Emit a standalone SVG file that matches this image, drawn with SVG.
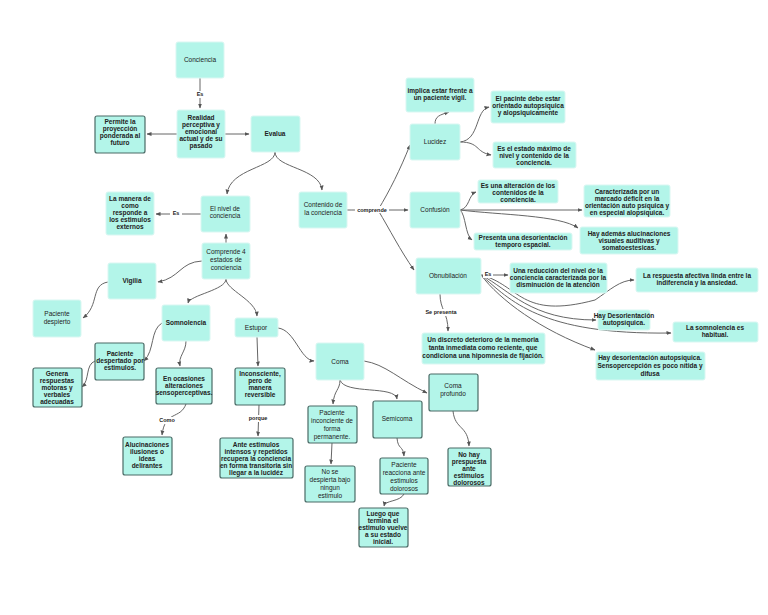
<svg xmlns="http://www.w3.org/2000/svg" width="768" height="615" viewBox="0 0 768 615">
<defs>
<marker id="a" viewBox="0 0 10 10" refX="9" refY="5" markerWidth="5" markerHeight="5" orient="auto"><path d="M0,1 L10,5 L0,9 z" fill="#555"/></marker>
<style>
.n{fill:#b3f5e9;stroke:#d9f7f2;stroke-width:1}
.b{fill:#b3f5e9;stroke:#4a6b66;stroke-width:1.2}
text{font-family:"Liberation Sans",Arial,sans-serif;font-size:6.5px;fill:#222;text-anchor:middle}
.t{font-weight:bold}
.c path{fill:none;stroke:#666;stroke-width:1;marker-end:url(#a)}
.l{font-size:5.5px;font-weight:bold}
</style>
</defs>
<rect width="768" height="615" fill="#fff"/>
<g class="c">
<path d="M200,78 L200,108"/>
<path d="M177,134 L147,134"/>
<path d="M225,134 L249,134"/>
<path d="M275,152 C275,168 230,168 227,194"/>
<path d="M275,152 C275,168 320,168 322,190"/>
<path d="M201,214 L156,214"/>
<path d="M226,243 L226,234"/>
<path d="M202,261 C180,262 180,278 158,282"/>
<path d="M226,279 C226,290 190,295 188,303"/>
<path d="M226,279 C226,290 256,300 257,316"/>
<path d="M108,282 C90,285 100,305 83,318"/>
<path d="M162,323 C150,330 155,350 144,361"/>
<path d="M95,361 C85,365 90,380 82,387"/>
<path d="M186,341 C186,352 178,356 180,366"/>
<path d="M186,404 C180,420 165,410 162,435"/>
<path d="M257,337 L258,366"/>
<path d="M259,405 L258,436"/>
<path d="M278,328 C295,330 300,360 314,361"/>
<path d="M340,380 C340,390 334,390 333,404"/>
<path d="M340,380 C345,395 395,385 397,399"/>
<path d="M364,361 C385,364 400,380 427,393"/>
<path d="M332,443 L331,464"/>
<path d="M397,438 C398,450 403,445 404,456"/>
<path d="M404,494 C400,502 385,500 384,506"/>
<path d="M453,411 C455,430 468,425 469,446"/>
<path d="M347,210 C370,210 375,210 378,210 C390,190 400,170 410,145"/>
<path d="M378,210 L408,210"/>
<path d="M378,210 C390,230 400,250 414,270"/>
<path d="M435,124 C435,116 440,115 449,112"/>
<path d="M460,142 C480,140 475,110 489,107"/>
<path d="M460,142 C480,142 475,152 491,155"/>
<path d="M460,210 C470,208 468,195 476,192"/>
<path d="M460,210 L582,210"/>
<path d="M460,210 C500,215 560,215 578,228"/>
<path d="M460,210 C466,215 465,235 472,240"/>
<path d="M481,275 L508,275"/>
<path d="M481,275 C520,285 520,320 595,300 C610,290 620,280 634,280"/>
<path d="M481,275 C510,290 530,320 596,320"/>
<path d="M481,275 C510,300 540,335 671,333"/>
<path d="M481,275 C500,300 540,330 595,350"/>
<path d="M440,294 C440,310 448,312 448,331"/>
</g>
<g font-weight="bold">
<rect x="194" y="91" width="12" height="7" fill="#fff"/><text class="l" x="200" y="96">Es</text>
<rect x="170" y="210" width="12" height="7" fill="#fff"/><text class="l" x="176" y="215">Es</text>
<rect x="355" y="206" width="34" height="7" fill="#fff"/><text class="l" x="372" y="212">comprende</text>
<rect x="483" y="271" width="10" height="7" fill="#fff"/><text class="l" x="488" y="276">Es</text>
<rect x="424" y="309" width="34" height="7" fill="#fff"/><text class="l" x="441" y="314">Se presenta</text>
<rect x="158" y="417" width="18" height="7" fill="#fff"/><text class="l" x="167" y="422">Como</text>
<rect x="248" y="415" width="20" height="7" fill="#fff"/><text class="l" x="258" y="420">porque</text>
</g>
<g id="conciencia"><rect class="n" x="176" y="42" width="48" height="36" rx="2"/><text x="200" y="62">Conciencia</text></g>
<g id="realidad"><rect class="n" x="177" y="110" width="48" height="48" rx="2"/><text class="t" x="201" y="120">Realidad</text><text class="t" x="201" y="127">perceptiva y</text><text class="t" x="201" y="134">emocional</text><text class="t" x="201" y="141">actual y de su</text><text class="t" x="201" y="148">pasado</text></g>
<g id="permite"><rect class="b" x="95" y="116" width="50" height="37" rx="2"/><text class="t" x="120" y="124">Permite la</text><text class="t" x="120" y="131">proyección</text><text class="t" x="120" y="138">ponderada al</text><text class="t" x="120" y="145">futuro</text></g>
<g id="evalua"><rect class="n" x="251" y="116" width="49" height="36" rx="2"/><text class="t" x="275" y="136">Evalua</text></g>
<g id="nivel"><rect class="n" x="201" y="196" width="49" height="36" rx="2"/><text x="225" y="211">El nivel de</text><text x="225" y="218">conciencia</text></g>
<g id="manera"><rect class="n" x="106" y="192" width="48" height="43" rx="2"/><text class="t" x="130" y="201">La manera de</text><text class="t" x="130" y="208">como</text><text class="t" x="130" y="215">responde a</text><text class="t" x="130" y="222">los estimulos</text><text class="t" x="130" y="229">externos</text></g>
<g id="contenido"><rect class="n" x="299" y="192" width="48" height="36" rx="2"/><text x="323" y="207">Contenido de</text><text x="323" y="215">la conciencia</text></g>
<g id="comprende"><rect class="n" x="202" y="243" width="48" height="36" rx="2"/><text x="226" y="254">Comprende 4</text><text x="226" y="262">estados de</text><text x="226" y="270">conciencia</text></g>
<g id="vigilia"><rect class="n" x="108" y="263" width="48" height="36" rx="2"/><text class="t" x="132" y="283">Vigilia</text></g>
<g id="despierto"><rect class="n" x="33" y="300" width="48" height="37" rx="2"/><text x="57" y="316">Paciente</text><text x="57" y="324">despierto</text></g>
<g id="somnolencia"><rect class="n" x="162" y="305" width="48" height="36" rx="2"/><text class="t" x="186" y="325">Somnolencia</text></g>
<g id="estupor"><rect class="n" x="235" y="318" width="43" height="19" rx="2"/><text x="256" y="330">Estupor</text></g>
<g id="coma"><rect class="n" x="316" y="343" width="48" height="37" rx="2"/><text x="340" y="364">Coma</text></g>
<g id="despertado"><rect class="b" x="95" y="343" width="49" height="37" rx="2"/><text class="t" x="120" y="356">Paciente</text><text class="t" x="120" y="363">despertado por</text><text class="t" x="120" y="370">estimulos.</text></g>
<g id="genera"><rect class="b" x="33" y="368" width="49" height="39" rx="2"/><text class="t" x="57" y="376">Genera</text><text class="t" x="57" y="383">respuestas</text><text class="t" x="57" y="390">motoras y</text><text class="t" x="57" y="397">verbales</text><text class="t" x="57" y="404">adecuadas</text></g>
<g id="ocasiones"><rect class="b" x="156" y="368" width="56" height="36" rx="2"/><text class="t" x="184" y="381">En ocasiones</text><text class="t" x="184" y="388">alteraciones</text><text class="t" x="184" y="395">sensoperceptivas.</text></g>
<g id="inconsciente"><rect class="b" x="235" y="368" width="50" height="37" rx="2"/><text class="t" x="260" y="376">Inconsciente,</text><text class="t" x="260" y="383">pero de</text><text class="t" x="260" y="390">manera</text><text class="t" x="260" y="397">reversible</text></g>
<g id="alucinaciones"><rect class="b" x="123" y="437" width="49" height="38" rx="2"/><text class="t" x="147" y="447">Alucinaciones</text><text class="t" x="147" y="454">ilusiones o</text><text class="t" x="147" y="461">ideas</text><text class="t" x="147" y="468">delirantes</text></g>
<g id="ante"><rect class="b" x="220" y="438" width="73" height="40" rx="2"/><text class="t" x="256" y="447">Ante estimulos</text><text class="t" x="256" y="454">intensos y repetidos</text><text class="t" x="256" y="461">recupera la conciencia</text><text class="t" x="256" y="468">en forma transitoria sin</text><text class="t" x="256" y="475">llegar a la lucidéz</text></g>
<g id="profundo"><rect class="b" x="429" y="374" width="49" height="37" rx="2"/><text x="453" y="388">Coma</text><text x="453" y="396">profundo</text></g>
<g id="pinconsciente"><rect class="b" x="308" y="406" width="49" height="37" rx="2"/><text x="332" y="415">Paciente</text><text x="332" y="423">inconciente de</text><text x="332" y="431">forma</text><text x="332" y="439">permanente.</text></g>
<g id="semicoma"><rect class="b" x="373" y="401" width="49" height="37" rx="2"/><text x="397" y="421">Semicoma</text></g>
<g id="nose"><rect class="b" x="305" y="466" width="50" height="36" rx="2"/><text x="330" y="474">No se</text><text x="330" y="482">despierta bajo</text><text x="330" y="490">ningun</text><text x="330" y="498">estimulo</text></g>
<g id="reacciona"><rect class="b" x="380" y="458" width="48" height="36" rx="2"/><text x="404" y="467">Paciente</text><text x="404" y="475">reacciona ante</text><text x="404" y="483">estimulos</text><text x="404" y="491">dolorosos</text></g>
<g id="nohay"><rect class="b" x="448" y="448" width="43" height="38" rx="2"/><text class="t" x="469" y="457">No hay</text><text class="t" x="469" y="464">prespuesta</text><text class="t" x="469" y="471">ante</text><text class="t" x="469" y="478">estimulos</text><text class="t" x="469" y="485">dolorosos</text></g>
<g id="luego"><rect class="b" x="359" y="508" width="49" height="39" rx="2"/><text class="t" x="383" y="516">Luego que</text><text class="t" x="383" y="523">termina el</text><text class="t" x="383" y="530">estimulo vuelve</text><text class="t" x="383" y="537">a su estado</text><text class="t" x="383" y="544">inicial.</text></g>
<g id="lucidez"><rect class="n" x="410" y="124" width="50" height="36" rx="2"/><text x="435" y="144">Lucidez</text></g>
<g id="implica"><rect class="n" x="406" y="78" width="68" height="34" rx="2"/><text class="t" x="440" y="93">implica estar frente a</text><text class="t" x="440" y="100">un paciente vigil.</text></g>
<g id="pacinte"><rect class="n" x="491" y="91" width="74" height="32" rx="2"/><text class="t" x="528" y="101">El pacinte debe estar</text><text class="t" x="528" y="108">orientado autopsiquica</text><text class="t" x="528" y="115">y alopsiquicamente</text></g>
<g id="estado"><rect class="n" x="493" y="142" width="83" height="26" rx="2"/><text class="t" x="534" y="151">Es el estado máximo de</text><text class="t" x="534" y="158">nivel y contenido de la</text><text class="t" x="534" y="165">conciencia.</text></g>
<g id="confusion"><rect class="n" x="410" y="192" width="50" height="36" rx="2"/><text x="435" y="212">Confusión</text></g>
<g id="alteracion"><rect class="n" x="478" y="180" width="80" height="23" rx="2"/><text class="t" x="518" y="188">Es una alteración de los</text><text class="t" x="518" y="195">contenidos de la</text><text class="t" x="518" y="202">conciencia.</text></g>
<g id="caracterizada"><rect class="n" x="584" y="185" width="86" height="32" rx="2"/><text class="t" x="627" y="194">Caracterizada por un</text><text class="t" x="627" y="201">marcado déficit en la</text><text class="t" x="627" y="208">orientación auto psíquica y</text><text class="t" x="627" y="215">en especial alopsíquica.</text></g>
<g id="presenta"><rect class="n" x="474" y="233" width="98" height="17" rx="2"/><text class="t" x="523" y="240">Presenta una desorientación</text><text class="t" x="523" y="247">temporo espacial.</text></g>
<g id="ademas"><rect class="n" x="580" y="227" width="98" height="27" rx="2"/><text class="t" x="629" y="236">Hay además alucinaciones</text><text class="t" x="629" y="243">visuales auditivas y</text><text class="t" x="629" y="250">somatoestesicas.</text></g>
<g id="obnubilacion"><rect class="n" x="416" y="258" width="65" height="36" rx="2"/><text x="448" y="278">Obnubilación</text></g>
<g id="reduccion"><rect class="n" x="510" y="263" width="97" height="30" rx="2"/><text class="t" x="558" y="273">Una reducción del nivel de la</text><text class="t" x="558" y="280">conciencia caracterizada por la</text><text class="t" x="558" y="287">disminución de la atención</text></g>
<g id="respuesta"><rect class="n" x="636" y="268" width="122" height="24" rx="2"/><text class="t" x="697" y="278">La respuesta afectiva linda entre la</text><text class="t" x="697" y="285">indiferencia y la ansiedad.</text></g>
<g id="hayd"><rect class="n" x="598" y="310" width="52" height="20" rx="2"/><text class="t" x="624" y="318">Hay Desorientación</text><text class="t" x="624" y="325">autopsíquica.</text></g>
<g id="somnhab"><rect class="n" x="673" y="322" width="85" height="20" rx="2"/><text class="t" x="715" y="330">La somnolencia es</text><text class="t" x="715" y="337">habitual.</text></g>
<g id="discreto"><rect class="n" x="422" y="333" width="123" height="31" rx="2"/><text class="t" x="483" y="342">Un discreto deterioro de la memoria</text><text class="t" x="483" y="350">tanta inmediata como reciente, que</text><text class="t" x="483" y="358">condiciona una hipomnesia de fijación.</text></g>
<g id="hayd2"><rect class="n" x="596" y="352" width="109" height="28" rx="2"/><text class="t" x="650" y="360">Hay desorientación autopsíquica.</text><text class="t" x="650" y="368">Sensopercepción es poco nítida y</text><text class="t" x="650" y="376">difusa</text></g>
</svg>
